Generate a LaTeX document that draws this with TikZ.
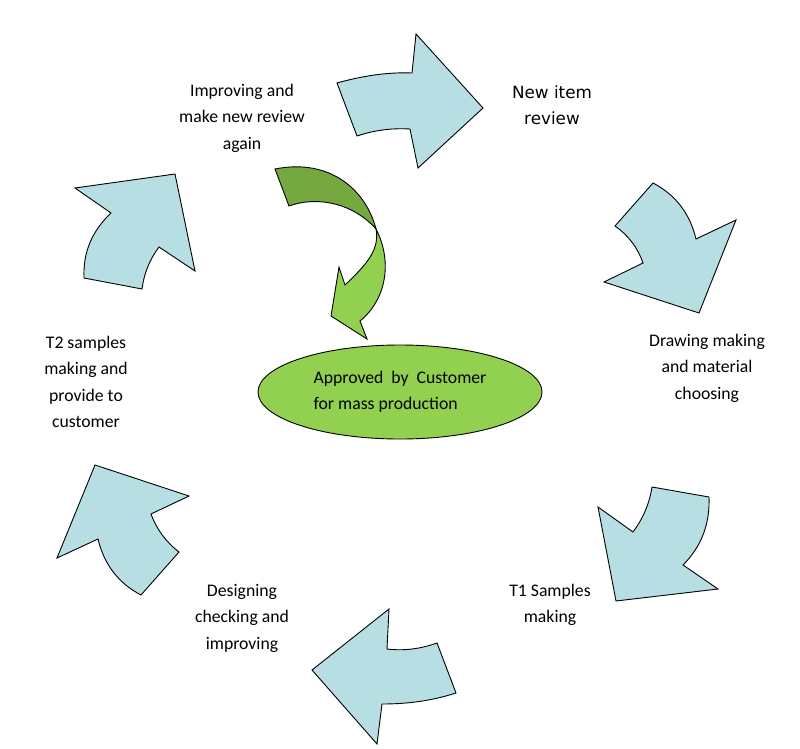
\documentclass[tikz,border=0pt]{standalone}
\usepackage{fontspec}
\setmainfont{Carlito}
\newfontfamily\dejavu{DejaVu Sans}
\usepackage{xcolor}
\usetikzlibrary{shapes.geometric}

\definecolor{arrowblue}{HTML}{B7DEE3}
\definecolor{lightgreen}{HTML}{92D050}
\definecolor{darkgreen}{HTML}{76A840}

\begin{document}
\begin{tikzpicture}[
  x=1pt, y=-1pt,
  bluearrow/.style={draw=black, fill=arrowblue, line width=0.9pt, line join=miter},
  greenpart/.style={draw=black, line width=0.9pt},
  step label/.style={font=\fontsize{17.7}{26.5}\selectfont, align=center, inner sep=0pt},
  approved/.style={ellipse, draw=black, fill=lightgreen, line width=0.9pt, minimum width=284pt, minimum height=94pt, font=\fontsize{17.7}{26.5}\selectfont, align=left, inner sep=0pt}
]
\useasboundingbox (0,0) rectangle (800,749);

% Cycle arrows
\draw[bluearrow] (337,83) .. controls (362,76) and (387,72) .. (412,73) -- (416,34) -- (483,108) -- (418,168)
  -- (410,129) .. controls (392,128) and (375,130) .. (357,136) -- cycle;
\draw[bluearrow] (653,183) -- (615,226) .. controls (628,235) and (638,248) .. (643,263) -- (604,282) -- (699,313)
  -- (736,220) -- (696,239) .. controls (690,214) and (676,195) .. (653,183) -- cycle;
\draw[bluearrow] (652,487) -- (709,497) .. controls (710,523) and (702,546) .. (683,565) -- (718,589) -- (616,601)
  -- (598,507) -- (633,532) .. controls (643,518.6) and (649.4,503.6) .. (652,487) -- cycle;
\draw[bluearrow] (389,609) -- (387,649) .. controls (404,651) and (420,649) .. (437,643) -- (456,693)
  .. controls (431,701) and (407,704) .. (382,704) -- (377,744) -- (312,670) -- cycle;
\draw[bluearrow] (95,465) -- (189,496) -- (151,514) .. controls (156.7,529.4) and (166,542) .. (179,552) -- (141,595)
  .. controls (118,583) and (104,564) .. (98,539) -- (57,558) -- cycle;
\draw[bluearrow] (75,188) -- (175,174) -- (195,271) -- (159,247) .. controls (149.6,259.5) and (144,273.5) .. (142,289)
  -- (84,278) .. controls (83,252) and (92,231) .. (111,213) -- cycle;

% Curved green arrow
\draw[greenpart, fill=darkgreen] (275,169) .. controls (330,158) and (366,190) .. (376,229)
  .. controls (355,205) and (320,195) .. (289,206) -- cycle;
\draw[greenpart, fill=lightgreen] (376,229) .. controls (393,262) and (386,300) .. (360,321)
  -- (367,339) -- (331,316) -- (339,267) -- (345,285) .. controls (366,265) and (380,250) .. (376,229) -- cycle;

% Centre
\node[approved] (approved) at (400,392) {Approved\ \ by\ \ Customer\\for mass production};

% Step labels
\node[step label] (improving) at (242,118) {Improving and\\make new review\\again};
\node[step label, font=\dejavu\fontsize{16.8}{26}\selectfont] (newitem) at (552,105) {New item\\review};
\node[step label] (drawing) at (707,368) {Drawing making\\and material\\choosing};
\node[step label] (tone) at (550,605) {T1 Samples\\making};
\node[step label] (designing) at (242,618) {Designing\\checking and\\improving};
\node[step label] (ttwo) at (86,382) {T2 samples\\making and\\provide to\\customer};

\end{tikzpicture}
\end{document}
